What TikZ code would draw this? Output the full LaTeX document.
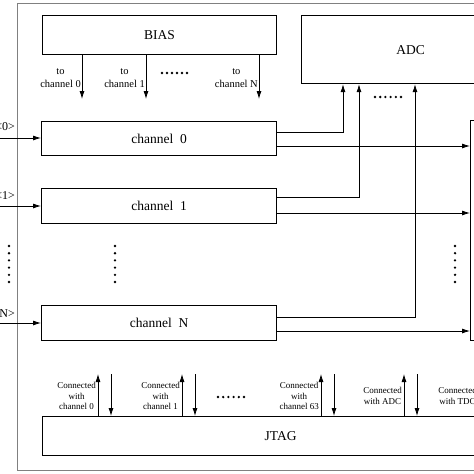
\documentclass[tikz,border=0pt]{standalone}
\usepackage{fontspec}
\setmainfont{Liberation Serif}
\usetikzlibrary{arrows.meta,positioning}

\begin{document}
\begin{tikzpicture}[x=1pt,y=-1pt,
	blk/.style={draw,line width=1.2pt,inner sep=0pt,anchor=north west,font=\fontsize{13.5}{15}\selectfont},
	arr/.style={line width=0.8pt,-{Latex[length=8pt,width=5pt]}},
	lbl/.style={font=\fontsize{10.5}{12.5}\selectfont,align=center,inner sep=1pt},
	sml/.style={font=\fontsize{9}{10.5}\selectfont,align=center,inner sep=1pt}]
			\useasboundingbox (0,0) rectangle (474,474);
			% outer frame
			\draw[gray,line width=0.8pt](490,3)--(17,3)--(17,470)--(490,470);
			% blocks
			\node[blk,minimum width=234pt,minimum height=39pt](bias) at (42,15){BIAS};
			\node[blk,minimum width=218pt,minimum height=68pt](adc) at (301,15){ADC};
			\node[blk,minimum width=60pt,minimum height=220pt](rbox) at (470,120){};
			\node[blk,minimum width=235pt,minimum height=34pt](ch0) at (41,121){channel\ \ 0};
			\node[blk,minimum width=235pt,minimum height=35pt](ch1) at (41,188){channel\ \ 1};
			\node[blk,minimum width=235pt,minimum height=35pt](chN) at (41,305){channel\ \ N};
			\node[blk,minimum width=476pt,minimum height=39pt](jtag) at (42,416){JTAG};
			% inputs
			\coordinate(in0) at (0,138);
			\coordinate(in1) at (0,206);
			\coordinate(inN) at (0,323);
			\draw[arr](in0)--(in0 -| ch0.west);
			\draw[arr](in1)--(in1 -| ch1.west);
			\draw[arr](inN)--(inN -| chN.west);
			\node[lbl,font=\fontsize{12}{14}\selectfont,anchor=base east](in0lbl) at (16,130){<0>};
			\node[lbl,font=\fontsize{12}{14}\selectfont,anchor=base east](in1lbl) at (16,199){<1>};
			\node[lbl,font=\fontsize{12}{14}\selectfont,anchor=base east](inNlbl) at (16,317){<N>};
			% bias outputs
			\coordinate(b0) at (82,99);
			\coordinate(b1) at (146,99);
			\coordinate(bN) at (259,99);
			\draw[arr](b0 |- bias.south)--(b0);
			\draw[arr](b1 |- bias.south)--(b1);
			\draw[arr](bN |- bias.south)--(bN);
			\node[lbl,anchor=east](b0lbl) at (82,78){to\\channel 0};
			\node[lbl,anchor=east](b1lbl) at (146,78){to\\channel 1};
			\node[lbl,anchor=east](bNlbl) at (259,78){to\\channel N};
			% channels to ADC
			\coordinate(a0) at (343,132);
			\coordinate(a1) at (359,197);
			\coordinate(aN) at (415,317);
			\draw[arr](ch0.east |- a0)-|(adc.south -| a0);
			\draw[arr](ch1.east |- a1)-|(adc.south -| a1);
			\draw[arr](chN.east |- aN)-|(adc.south -| aN);
			% channels to right block
			\coordinate(r0) at (0,146);
			\coordinate(r1) at (0,213);
			\coordinate(rN) at (0,331);
			\draw[arr](ch0.east |- r0)--(rbox.west |- r0);
			\draw[arr](ch1.east |- r1)--(rbox.west |- r1);
			\draw[arr](chN.east |- rN)--(rbox.west |- rN);
			% jtag connections
			\foreach \n/\u/\d in {0/98/111,1/182/195,63/321/334,adc/404/417}{
				\coordinate(u\n) at (\u,374);
				\coordinate(d\n) at (\d,374);
				\draw[arr](jtag.north -| u\n)--(u\n);
				\draw[arr](d\n)--(jtag.north -| d\n);
			}
			\node[sml,anchor=east](u0lbl) at (97,396){Connected\\with\\channel 0};
			\node[sml,anchor=east](u1lbl) at (181,396){Connected\\with\\channel 1};
			\node[sml,anchor=east](u63lbl) at (320,396){Connected\\with\\channel 63};
			\node[sml,anchor=east](uadclbl) at (403,396){Connected\\with ADC};
			\node[sml,anchor=east](utdclbl) at (478,396){Connected\\with TDC};
			% dots
			\foreach \i in {0,...,5}{
				\fill(162+\i*5,73)circle(1.3pt);
				\fill(375+\i*5.2,97)circle(1.3pt);
				\fill(218+\i*5.2,397)circle(1.3pt);
				\fill(9,246+\i*7.2)circle(1.3pt);
				\fill(115,246+\i*7.2)circle(1.3pt);
				\fill(455,246+\i*7.2)circle(1.3pt);
			}
			\end{tikzpicture}
\end{document}
